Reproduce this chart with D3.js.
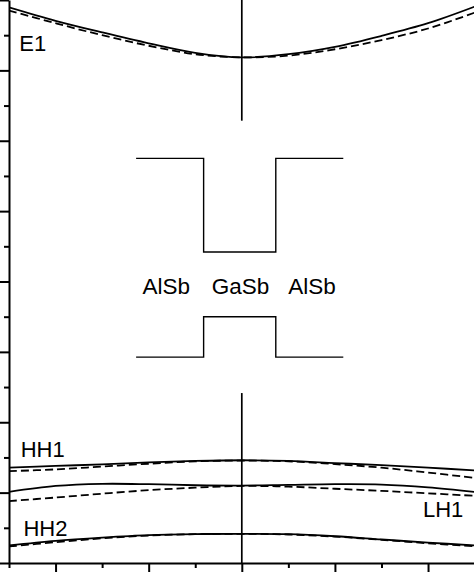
<!DOCTYPE html>
<html>
<head>
<meta charset="utf-8">
<script src="https://cdn.jsdelivr.net/npm/d3@7"></script>
<style>
  html, body { margin: 0; padding: 0; background: #fff; }
  svg { display: block; }
  text { font-family: "Liberation Sans", Arial, Helvetica, sans-serif; fill: #000; }
</style>
</head>
<body>
<svg id="chart" width="474" height="572"></svg>
<script>
// ---- data (wave vector k, energy in arbitrary units) ----
const kValues   = [-5, -4, -3, -2, -1, 0, 1, 2, 3, 4, 5];
const E1Solid   = [157.9, 154.1, 150.8, 147.7, 145.0, 143.7, 144.6, 146.7, 149.8, 153.4, 158.1];
const E1Dashed  = [157.0, 153.4, 150.0, 147.0, 144.6, 143.7, 144.2, 146.0, 148.6, 151.9, 156.4];
const HH1Solid  = [27.1, 27.6, 28.0, 28.6, 29.0, 29.2, 29.0, 28.4, 27.8, 27.1, 26.3];
const HH1Dashed = [26.1, 26.6, 27.4, 28.2, 28.9, 29.1, 28.9, 28.1, 27.1, 25.7, 24.2];
const LH1Solid  = [20.2, 21.9, 22.5, 22.4, 22.1, 22.0, 22.2, 22.4, 22.3, 21.5, 20.2];
const LH1Dashed = [17.6, 18.6, 19.7, 20.7, 21.4, 21.9, 21.7, 21.1, 20.5, 19.8, 19.1];
const HH2Solid  = [5.0, 6.3, 7.2, 7.9, 8.2, 8.3, 8.2, 7.6, 6.7, 5.8, 5.0];
const HH2Dashed = [4.7, 5.9, 7.0, 7.8, 8.2, 8.3, 8.1, 7.5, 6.6, 5.6, 4.8];

const xTicks = [-5, -4, -3, -2, -1, 0, 1, 2, 3, 4, 5];
const yTicks = d3.range(0, 161, 10);

// k = 0 marker line segments (energy ranges)
const centerSegments = [[160, 125.7], [48.3, 0]];

// inset: quantum-well band profile (k, E)
const wellCB = [[-2.27, 115.0], [-0.82, 115.0], [-0.82, 88.4], [0.73, 88.4], [0.73, 115.0], [2.18, 115.0]];
const wellVB = [[-2.27, 58.5], [-0.82, 58.5], [-0.82, 70.0], [0.73, 70.0], [0.73, 58.5], [2.18, 58.5]];
const layerNames = ["AlSb", "GaSb", "AlSb"];
const layerK = [-1.62, -0.03, 1.51];
const layerE = 76.4;

const bandLabels = ["E1", "HH1", "HH2", "LH1"];
const bandLabelK = [-4.78, -4.75, -4.69, 3.89];
const bandLabelE = [145.5, 30.0, 7.7, 13.0];

// ---- drawing ----
const svg = d3.select("#chart");
const W = 474, H = 572;
const x = d3.scaleLinear().domain([-5, 5]).range([9, 474.6]);
const y = d3.scaleLinear().domain([0, 160]).range([563, 0]);

svg.append("rect").attr("width", W).attr("height", H).attr("fill", "#fff");

const line = d3.line()
  .x((d, i) => x(kValues[i]))
  .y(d => y(d))
  .curve(d3.curveCatmullRom.alpha(0.5));

const series = [
  { v: E1Solid, dash: null }, { v: E1Dashed, dash: "8,4" },
  { v: HH1Solid, dash: null }, { v: HH1Dashed, dash: "8,4" },
  { v: LH1Solid, dash: null }, { v: LH1Dashed, dash: "8,4" },
  { v: HH2Solid, dash: null }, { v: HH2Dashed, dash: "8,4" }
];

svg.append("defs").append("clipPath").attr("id", "clip")
  .append("rect").attr("x", x(-5)).attr("y", 0).attr("width", x(5) - x(-5)).attr("height", y(0));

const plot = svg.append("g").attr("clip-path", "url(#clip)");
series.forEach(s => {
  plot.append("path")
    .attr("d", line(s.v))
    .attr("fill", "none")
    .attr("stroke", "#000")
    .attr("stroke-width", 1.8)
    .attr("stroke-dasharray", s.dash);
});

// k = 0 line
centerSegments.forEach(seg => {
  svg.append("line")
    .attr("x1", x(0)).attr("x2", x(0))
    .attr("y1", y(seg[0])).attr("y2", y(seg[1]))
    .attr("stroke", "#000").attr("stroke-width", 1.7);
});

// inset well
const wl = d3.line().x(d => x(d[0])).y(d => y(d[1]));
[wellCB, wellVB].forEach(p => {
  svg.append("path").attr("d", wl(p))
    .attr("fill", "none").attr("stroke", "#000").attr("stroke-width", 1.4);
});
layerNames.forEach((t, i) => {
  svg.append("text")
    .attr("x", x(layerK[i])).attr("y", y(layerE))
    .attr("text-anchor", "middle")
    .attr("font-size", 22.5)
    .text(t);
});

// band labels
bandLabels.forEach((t, i) => {
  svg.append("text")
    .attr("x", x(bandLabelK[i])).attr("y", y(bandLabelE[i]))
    .attr("font-size", 22)
    .text(t);
});

// axes
const yAxis = svg.append("g")
  .attr("transform", `translate(${x(-5)},0)`)
  .call(d3.axisLeft(y).tickValues(yTicks).tickFormat("").tickSize(5).tickSizeOuter(0));
yAxis.selectAll(".tick line").filter(d => d % 20 === 0).attr("x2", -9);

const xAxis = svg.append("g")
  .attr("transform", `translate(0,${y(0)})`)
  .call(d3.axisBottom(x).tickValues(xTicks).tickFormat("").tickSize(5).tickSizeOuter(0));
xAxis.selectAll(".tick line").filter(d => d % 2 === 0).attr("y2", 10);

[yAxis, xAxis].forEach(a => {
  a.select(".domain").attr("stroke", "#000").attr("stroke-width", 2);
  a.selectAll(".tick line").attr("stroke", "#000").attr("stroke-width", 2);
});
</script>
</body>
</html>
